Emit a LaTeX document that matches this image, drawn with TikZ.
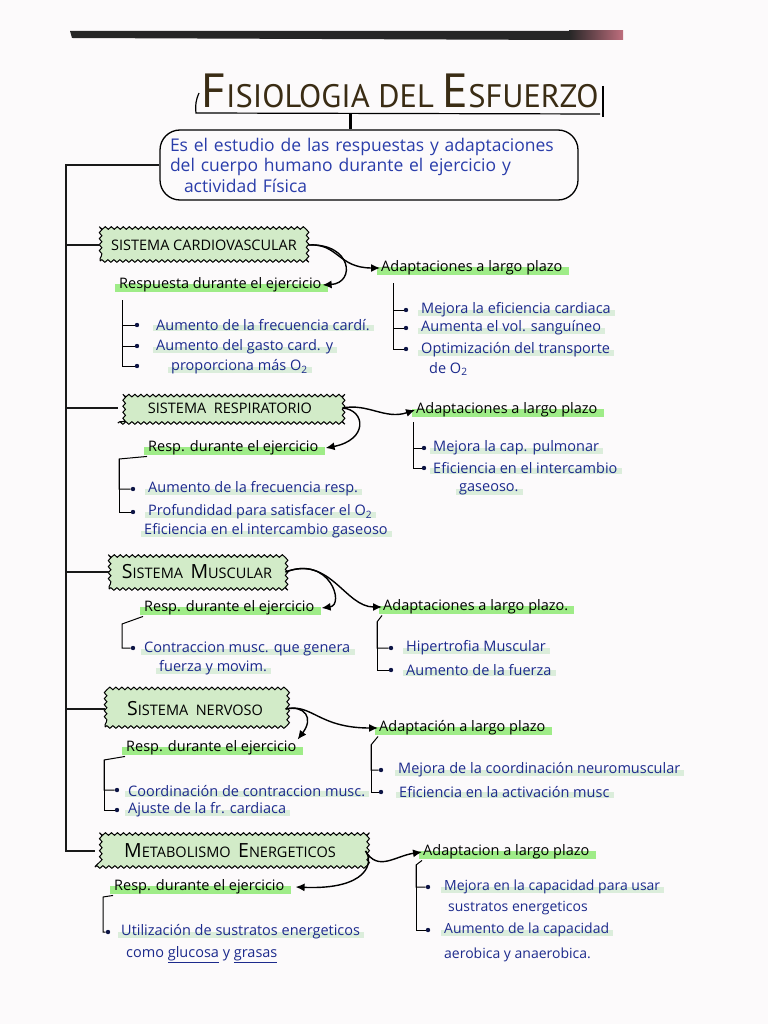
\documentclass[tikz,border=0pt]{standalone}
\usepackage{fontspec}
\setmainfont{Open Sans}
\newfontfamily\titlefont{PT Sans}
\newfontfamily\boxfont{Open Sans}
\usetikzlibrary{arrows.meta,decorations.pathmorphing,backgrounds}
\definecolor{paper}{HTML}{FCFAFB}
\definecolor{ink}{HTML}{1C2A8C}
\definecolor{defink}{HTML}{2A3DAA}
\definecolor{hlgreen}{HTML}{62E43C}
\definecolor{palegreen}{HTML}{D3EAD3}
\definecolor{boxgreen}{HTML}{D2EBC8}
\definecolor{titleink}{HTML}{3A2C14}
\newcommand\Bg[1]{{\fontsize{19.5}{19.5}\selectfont #1}}
\newcommand\Tb[1]{{\fontsize{48}{48}\selectfont #1}}
\newcommand\Ts[1]{{\fontsize{32.5}{32.5}\selectfont #1}}
\newcommand\HL[1]{\draw[hl] ([xshift=-3pt,yshift=-3pt]#1.west) -- ([xshift=5pt,yshift=-3pt]#1.east);}
\newcommand\PL[1]{\draw[pl] ([xshift=-2pt,yshift=-3pt]#1.west) -- ([xshift=3pt,yshift=-3pt]#1.east);}
\begin{document}
\begin{tikzpicture}[x=1pt,y=-1pt,
 hd/.style={anchor=west,inner sep=1pt,font=\fontsize{14.5}{17}\selectfont,text=black},
 it/.style={anchor=west,inner sep=1pt,font=\fontsize{14.5}{17}\selectfont,text=ink},
 dot/.style={circle,fill=ink!50!black,inner sep=0pt,minimum size=4.4pt},
 sysbox/.style={draw=black,line width=1pt,fill=boxgreen,decorate,decoration={snake,amplitude=1.3pt,segment length=6pt},inner sep=0pt,font=\boxfont\fontsize{14.5}{16}\selectfont},
 arr/.style={-{Latex[length=9pt,width=8pt]},line width=1.4pt,black},
 br/.style={line width=1pt,black},
 trunk/.style={line width=1.8pt,black!90},
 hl/.style={line width=8pt,hlgreen,opacity=0.6},
 pl/.style={line width=6pt,palegreen,opacity=0.8}]
\begin{scope}[on background layer]
\fill[paper] (0,0) rectangle (768,1024);
\end{scope}
\useasboundingbox (0,0) rectangle (768,1024);
% top edge bar
\fill[black!85] (70,31) -- (570,31) -- (570,40) -- (72,38) -- cycle;
\shade[left color=black!85,right color={rgb,255:red,190;green,110;blue,125}] (569,31) rectangle (623,40);

% title
\node[font=\titlefont,text=titleink,anchor=base,inner sep=0pt] (title) at (400,108) {\Tb{F}\Ts{ISIOLOGIA DEL }\Tb{E}\Ts{SFUERZO}};
\draw[line width=1.2pt] (199,93) to[bend right=15] (196,113) -- (600,114);
\draw[line width=1.2pt] (603,86) -- (603,117);
\coordinate (ts) at (350,114);

% definition
\node[draw,line width=1.3pt,rounded corners=20pt,minimum width=418pt,minimum height=70pt,text=defink,font=\fontsize{17.5}{20.5}\selectfont,align=left,text width=398pt,inner xsep=10pt,inner ysep=4pt] (def) at (369,165)
 {Es el estudio de las respuestas y adaptaciones\\del cuerpo humano durante el ejercicio y\\\hspace{14pt}actividad Física};
\draw[line width=3pt] (ts) -- (ts |- def.north);

% ---------- system boxes
\node[sysbox,minimum width=208pt,minimum height=32pt] (cv) at (204,245) {SISTEMA CARDIOVASCULAR};
\node[sysbox,minimum width=224pt,minimum height=30pt] (rs) at (230,408) {SISTEMA\ \ RESPIRATORIO};
\node[sysbox,minimum width=176pt,minimum height=34pt] (ms) at (197,572) {\Bg{S}ISTEMA\ \ \Bg{M}USCULAR};
\node[sysbox,minimum width=180pt,minimum height=36pt] (nv) at (195,709) {\Bg{S}ISTEMA\ \ NERVOSO};
\node[sysbox,minimum width=270pt,minimum height=32pt] (mt) at (230,851) {\Bg{M}ETABOLISMO\ \ \Bg{E}NERGETICOS};

% trunk
\coordinate (tk) at (66,165);
\draw[trunk] (def.west) -- (tk) |- (mt.west);
\draw[trunk] (tk |- cv.west) -- (cv.west);
\draw[trunk] (tk |- rs.west) -- (rs.west);
\draw[trunk] (tk |- ms.west) -- (ms.west);
\draw[trunk] (tk |- nv.west) -- (nv.west);

% ---------- cardiovascular
\node[hd] (cvR) at (118,285) {Respuesta durante el ejercicio};
\node[hd] (cvA) at (380,268) {Adaptaciones a largo plazo};
\draw[arr] (cv.east) .. controls (338,243) and (338,268) .. (cvA.west);
\draw[arr] (cv.east) .. controls (352,243) and (356,283) .. (cvR.east);
\node[it] (cvR1) at (155,325) {Aumento de la frecuencia cardí.};
\node[it] (cvR2) at (155,347) {Aumento del gasto card. y};
\node[it] (cvR3) at (170,367) {proporciona más O\textsubscript{2}};
\node[dot] (cvRd1) at (137,325) {};
\node[dot] (cvRd2) at (137,346) {};
\node[dot] (cvRd3) at (137,366) {};
\coordinate (cvRt) at (122,300);
\draw[br] (cvRt) |- (cvRd1); \draw[br] (cvRt) |- (cvRd2); \draw[br] (cvRt) |- (cvRd3);
\node[it] (cvA1) at (420,310) {Mejora la eficiencia cardiaca};
\node[it] (cvA2) at (420,328) {Aumenta el vol. sanguíneo};
\node[it] (cvA3) at (420,350) {Optimización del transporte};
\node[it] (cvA4) at (428,369) {de O\textsubscript{2}};
\node[dot] (cvAd1) at (406,310) {};
\node[dot] (cvAd2) at (406,328) {};
\node[dot] (cvAd3) at (406,349) {};
\coordinate (cvAt) at (393,283);
\draw[br] (cvAt) |- (cvAd1); \draw[br] (cvAt) |- (cvAd2); \draw[br] (cvAt) |- (cvAd3);

% ---------- respiratorio
\node[hd] (rsR) at (147,448) {Resp. durante el ejercicio};
\node[hd] (rsA) at (415,410) {Adaptaciones a largo plazo};
\draw[arr] (rs.east) .. controls (368,403) and (385,420) .. (rsA.west);
\draw[arr] (rs.east) .. controls (366,410) and (368,440) .. ([xshift=6pt]rsR.east);
\node[it] (rsR1) at (147,489) {Aumento de la frecuencia resp.};
\node[it] (rsR2) at (147,512) {Profundidad para satisfacer el O\textsubscript{2}};
\node[it] (rsR3) at (143,531) {Eficiencia en el intercambio gaseoso};
\node[dot] (rsRd1) at (133,489) {};
\node[dot] (rsRd2) at (133,512) {};
\coordinate (rsRt) at (119,459);
\draw[br] (rsR.south west) -- (rsRt) |- (rsRd1); \draw[br] (rsRt) |- (rsRd2);
\node[it] (rsA1) at (432,448) {Mejora la cap. pulmonar};
\node[it] (rsA2) at (432,468) {Eficiencia en el intercambio};
\node[it] (rsA3) at (458,489) {gaseoso.};
\node[dot] (rsAd1) at (424,448) {};
\node[dot] (rsAd2) at (424,468) {};
\coordinate (rsAt) at (413,422);
\draw[br] (rsAt) |- (rsAd1); \draw[br] (rsAt) |- (rsAd2);

% ---------- muscular
\node[hd] (msR) at (143,608) {Resp. durante el ejercicio};
\node[hd] (msA) at (382,607) {Adaptaciones a largo plazo.};
\draw[arr] (ms.east) .. controls (330,555) and (345,605) .. ([xshift=6pt]msR.east);
\draw[arr] (ms.east) .. controls (330,555) and (345,607) .. (msA.west);
\node[it] (msR1) at (143,649) {Contraccion musc. que genera};
\node[it] (msR2) at (158,668) {fuerza y movim.};
\node[dot] (msRd1) at (133,648) {};
\coordinate (msRt) at (122,624);
\draw[br] (msR.south west) -- (msRt) |- (msRd1);
\node[it] (msA1) at (405,648) {Hipertrofia Muscular};
\node[it] (msA2) at (405,670) {Aumento de la fuerza};
\node[dot] (msAd1) at (391,648) {};
\node[dot] (msAd2) at (391,670) {};
\coordinate (msAt) at (377,622);
\draw[br] (msA.south west) -- (msAt) |- (msAd1); \draw[br] (msAt) |- (msAd2);

% ---------- nervoso
\node[hd] (nvR) at (125,748) {Resp. durante el ejercicio};
\node[hd] (nvA) at (378,728) {Adaptación a largo plazo};
\draw[arr] (nv.east) .. controls (305,705) and (314,718) .. (nvR.north east);
\draw[arr] (nv.east) .. controls (312,703) and (318,728) .. (nvA.west);
\node[it] (nvR1) at (127,791) {Coordinación de contraccion musc.};
\node[it] (nvR2) at (127,810) {Ajuste de la fr. cardiaca};
\node[dot] (nvRd1) at (117,790) {};
\node[dot] (nvRd2) at (117,810) {};
\coordinate (nvRt) at (104,760);
\draw[br] (nvR.south west) -- (nvRt) |- (nvRd1); \draw[br] (nvRt) |- (nvRd2);
\node[it] (nvA1) at (397,770) {Mejora de la coordinación neuromuscular};
\node[it] (nvA2) at (398,792) {Eficiencia en la activación musc};
\node[dot] (nvAd1) at (381,770) {};
\node[dot] (nvAd2) at (381,792) {};
\coordinate (nvAt) at (371,745);
\draw[br] (nvA.south west) -- (nvAt) |- (nvAd1); \draw[br] (nvAt) |- (nvAd2);

% ---------- metabolismo
\node[hd] (mtR) at (113,887) {Resp. durante el ejercicio};
\node[hd] (mtA) at (422,852) {Adaptacion a largo plazo};
\draw[arr] (mt.east) .. controls (378,872) and (395,856) .. (mtA.west);
\draw[arr] (mt.east) .. controls (374,862) and (368,890) .. ([xshift=10pt]mtR.east);
\node[it] (mtR1) at (120,932) {Utilización de sustratos energeticos};
\node[it] (mtR2) at (125,955) {como \underline{glucosa} y \underline{grasas}};
\node[dot] (mtRd1) at (108,932) {};
\coordinate (mtRt) at (103,897);
\draw[br] (mtR.south west) -- (mtRt) |- (mtRd1);
\node[it,font=\fontsize{14}{16}\selectfont] (mtA1) at (443,887) {Mejora en la capacidad para usar};
\node[it,font=\fontsize{14}{16}\selectfont] (mtA2) at (447,908) {sustratos energeticos};
\node[it,font=\fontsize{14}{16}\selectfont] (mtA3) at (443,930) {Aumento de la capacidad};
\node[it,font=\fontsize{14}{16}\selectfont] (mtA4) at (443,955) {aerobica y anaerobica.};
\node[dot] (mtAd1) at (428,887) {};
\node[dot] (mtAd2) at (428,930) {};
\coordinate (mtAt) at (416,865);
\draw[br] (mtA.south west) -- (mtAt) |- (mtAd1); \draw[br] (mtAt) |- (mtAd2);

% ---------- highlights
\begin{scope}[on background layer]
\HL{cvR}\HL{cvA}\HL{rsR}\HL{rsA}\HL{msR}\HL{msA}\HL{nvR}\HL{nvA}\HL{mtR}\HL{mtA}
\PL{cvR1}\PL{cvR2}\PL{cvR3}\PL{cvA1}\PL{cvA2}\PL{cvA3}
\PL{rsR1}\PL{rsR2}\PL{rsR3}\PL{rsA1}\PL{rsA2}\PL{rsA3}
\PL{msR1}\PL{msR2}\PL{msA1}\PL{msA2}
\PL{nvR1}\PL{nvR2}\PL{nvA1}\PL{nvA2}
\PL{mtR1}\PL{mtA1}\PL{mtA3}
\end{scope}
\end{tikzpicture}
\end{document}
